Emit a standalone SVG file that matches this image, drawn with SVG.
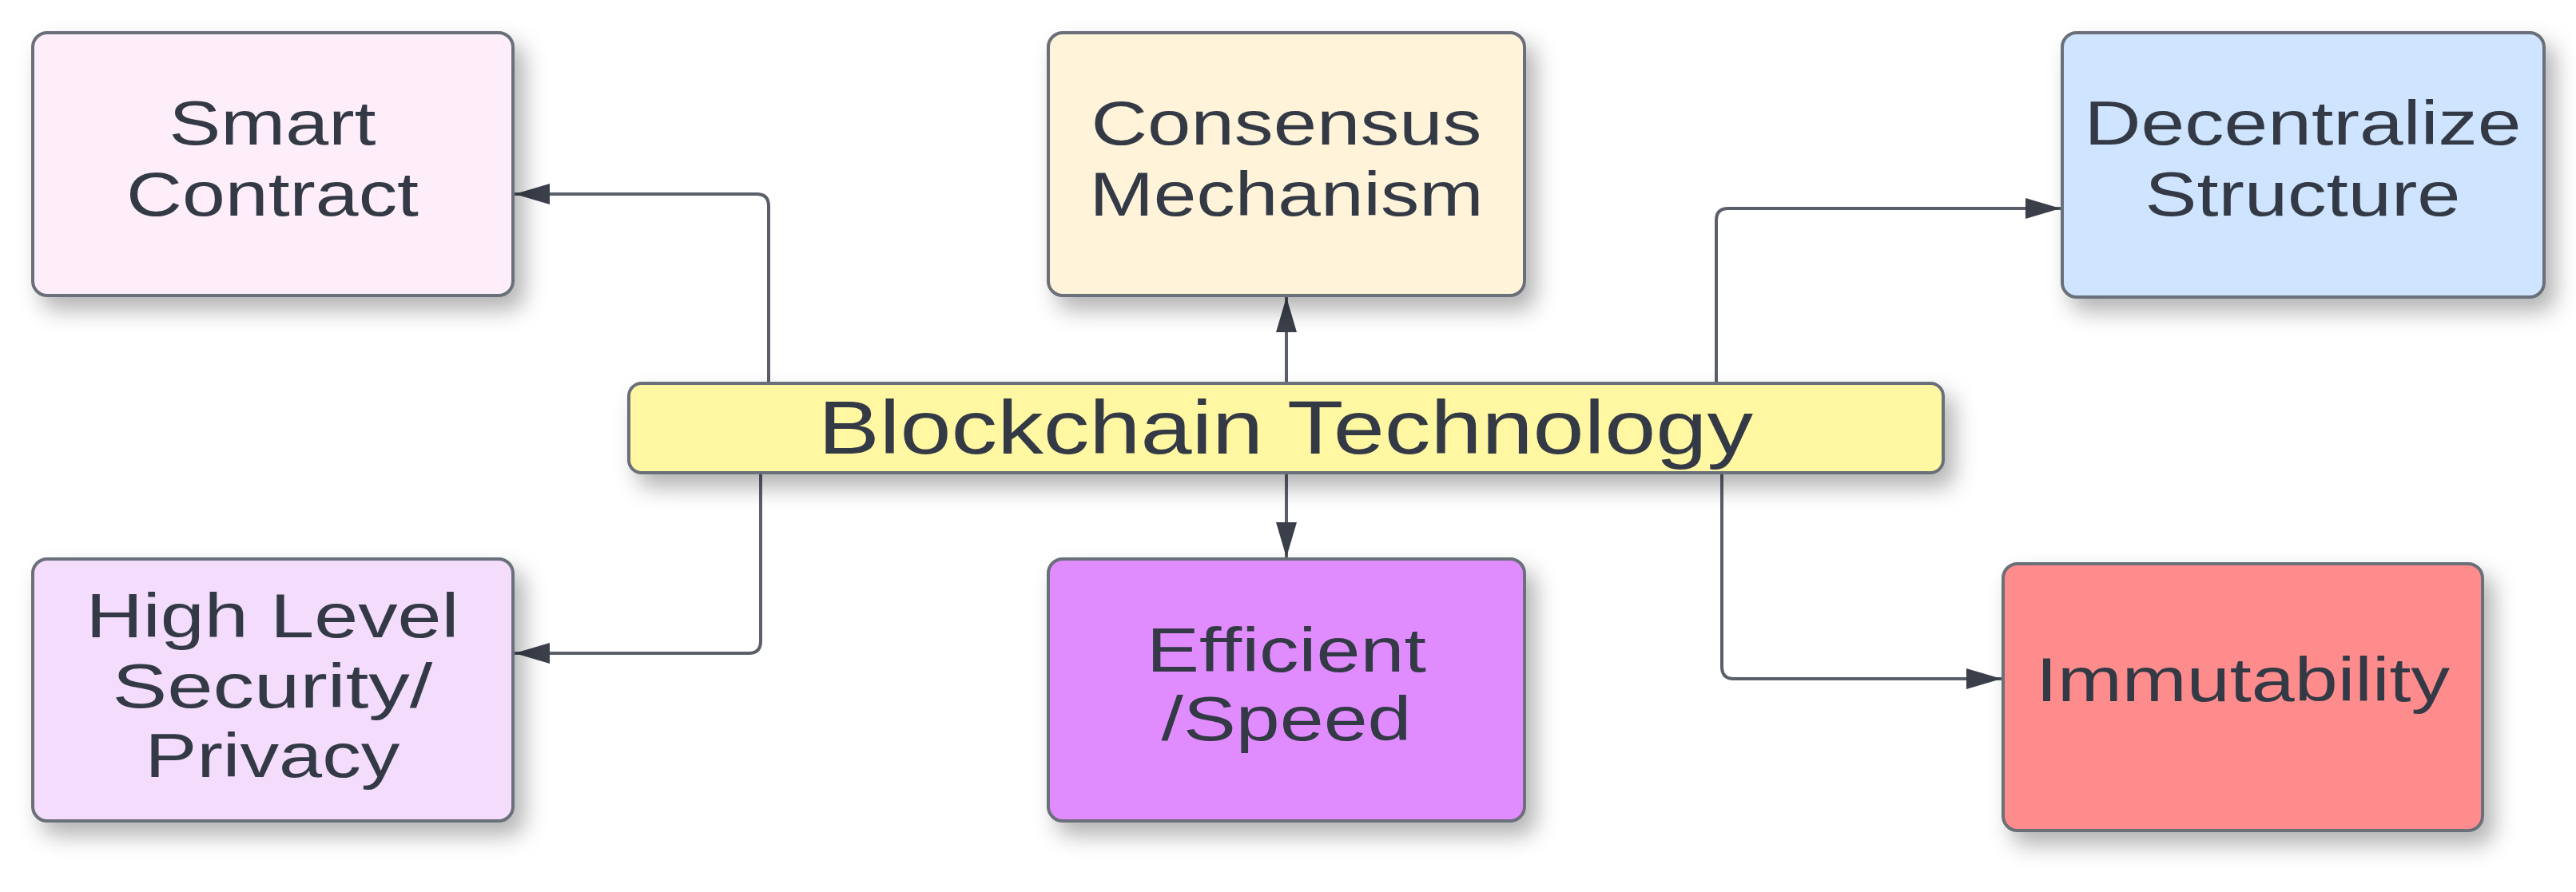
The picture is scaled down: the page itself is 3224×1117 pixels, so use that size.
<svg xmlns="http://www.w3.org/2000/svg" width="3224" height="1117" viewBox="0 0 3224 1117">
<style>
.box{stroke:#6b6f7a;stroke-width:4;filter:url(#sh)}
.t{font-family:"Liberation Sans",Arial,sans-serif;font-size:78px;fill:#333a45;text-anchor:middle;dominant-baseline:central}
.c{fill:none;stroke:#5a5f6a;stroke-width:4}
</style>
<defs>
<filter id="sh" x="-20%" y="-20%" width="150%" height="160%"><feDropShadow dx="12" dy="16" stdDeviation="14" flood-color="#000" flood-opacity="0.3"/></filter>
<marker id="a" viewBox="0 0 10 10" refX="10" refY="5" markerWidth="44" markerHeight="26" markerUnits="userSpaceOnUse" orient="auto" preserveAspectRatio="none"><path d="M0,0L10,5L0,10z" fill="#3a3f4a"/></marker>
</defs>
<rect width="3224" height="1117" fill="#fff"/>
<g id="connectors">
<path class="c" d="M962,480V258q0,-15 -15,-15H644" marker-end="url(#a)"/>
<path class="c" d="M1610,480V372" marker-end="url(#a)"/>
<path class="c" d="M2148,480V276q0,-15 15,-15H2579" marker-end="url(#a)"/>
<path class="c" d="M952,592V803q0,15 -15,15H644" marker-end="url(#a)"/>
<path class="c" d="M1610,592V698" marker-end="url(#a)"/>
<path class="c" d="M2155,592V835q0,15 15,15H2505" marker-end="url(#a)"/>
</g>
<g id="smart"><rect class="box" x="41" y="41" width="601" height="329" rx="18" fill="#fdeefa"/><text class="t" x="341" y="154" textLength="259" lengthAdjust="spacingAndGlyphs">Smart</text><text class="t" x="341" y="243" textLength="366" lengthAdjust="spacingAndGlyphs">Contract</text></g>
<g id="consensus"><rect class="box" x="1312" y="41" width="596" height="329" rx="18" fill="#fff3d9"/><text class="t" x="1610" y="154" textLength="489" lengthAdjust="spacingAndGlyphs">Consensus</text><text class="t" x="1610" y="243" textLength="493" lengthAdjust="spacingAndGlyphs">Mechanism</text></g>
<g id="decentralize"><rect class="box" x="2581" y="41" width="603" height="331" rx="18" fill="#cfe4ff"/><text class="t" x="2882" y="154" textLength="547" lengthAdjust="spacingAndGlyphs">Decentralize</text><text class="t" x="2882" y="243" textLength="395" lengthAdjust="spacingAndGlyphs">Structure</text></g>
<g id="blockchain"><rect class="box" x="787" y="480" width="1645" height="112" rx="16" fill="#fff7a1"/><text class="t" x="1609" y="535" style="font-size:94px" textLength="1170" lengthAdjust="spacingAndGlyphs">Blockchain Technology</text></g>
<g id="highlevel"><rect class="box" x="41" y="700" width="601" height="328" rx="18" fill="#f3dcfc"/><text class="t" x="341" y="771" textLength="467" lengthAdjust="spacingAndGlyphs">High Level</text><text class="t" x="341" y="859" textLength="401" lengthAdjust="spacingAndGlyphs">Security/</text><text class="t" x="341" y="946" textLength="319" lengthAdjust="spacingAndGlyphs">Privacy</text></g>
<g id="efficient"><rect class="box" x="1312" y="700" width="596" height="328" rx="18" fill="#e08cfe"/><text class="t" x="1610" y="814" textLength="350" lengthAdjust="spacingAndGlyphs">Efficient</text><text class="t" x="1610" y="900" textLength="313" lengthAdjust="spacingAndGlyphs">/Speed</text></g>
<g id="immutability"><rect class="box" x="2507" y="706" width="600" height="334" rx="18" fill="#ff8c8c"/><text class="t" x="2807" y="851" textLength="518" lengthAdjust="spacingAndGlyphs">Immutability</text></g>
</svg>
